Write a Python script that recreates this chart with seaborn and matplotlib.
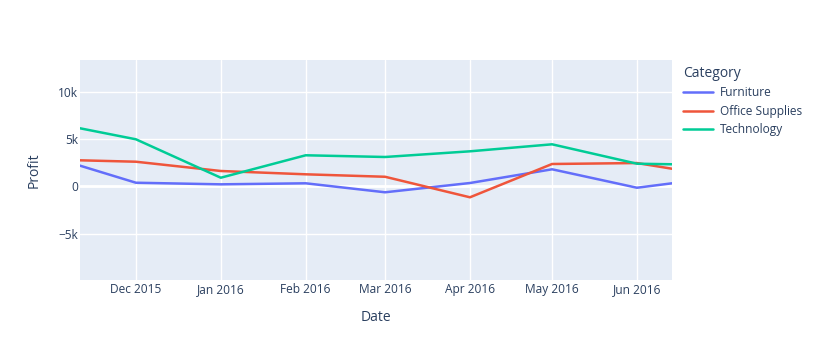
import matplotlib
matplotlib.use("Agg")
import matplotlib.pyplot as plt
import matplotlib.dates as mdates
import matplotlib.ticker as mticker
import numpy as np
import pandas as pd
import seaborn as sns

# monthly profit per category
months = pd.date_range("2015-11-01", "2016-07-01", freq="MS")
furniture = [3030, 380, 210, 320, -630, 350, 1800, -150, 950]
office_supplies = [2820, 2600, 1620, 1270, 1010, -1160, 2360, 2460, 1050]
technology = [6680, 4970, 910, 3280, 3100, 3700, 4440, 2390, 2250]
categories = ["Furniture", "Office Supplies", "Technology"]
colors = ["#636efa", "#EF553B", "#00cc96"]

df = pd.DataFrame({
    "Date": np.tile(months, 3),
    "Profit": furniture + office_supplies + technology,
    "Category": np.repeat(categories, len(months)),
})

sns.set_style("white")
plt.rcParams["font.family"] = ["Open Sans", "DejaVu Sans"]
text_col = "#2a3f5f"

fig = plt.figure(figsize=(8.31, 3.6), dpi=100)
ax = fig.add_axes([80 / 831, 80 / 360, 592 / 831, 220 / 360])
ax.set_facecolor("#E5ECF6")

sns.lineplot(data=df, x="Date", y="Profit", hue="Category",
             palette=colors, linewidth=1.8, ax=ax)

ax.set_xlim(pd.Timestamp("2015-11-10 14:00"), pd.Timestamp("2016-06-13 19:00"))
ax.set_ylim(-9900, 13350)

ax.xaxis.set_major_locator(mdates.MonthLocator(bymonthday=1))
ax.xaxis.set_major_formatter(mdates.DateFormatter("%b %Y"))
ax.yaxis.set_major_locator(mticker.MultipleLocator(5000))
ax.yaxis.set_major_formatter(mticker.FuncFormatter(
    lambda v, p: "0" if v == 0 else f"{v / 1000:.0f}k".replace("-", "\u2212")))

ax.grid(True, color="white", linewidth=1)
ax.axhline(0, color="white", linewidth=2, zorder=1.5)
ax.set_axisbelow(True)
for s in ax.spines.values():
    s.set_visible(False)
ax.tick_params(length=0, labelsize=8.6, colors=text_col)
ax.tick_params(axis="x", pad=2)
ax.tick_params(axis="y", pad=1.5)

ax.set_xlabel("Date", fontsize=10, color=text_col, labelpad=10)
ax.set_ylabel("Profit", fontsize=10, color=text_col, labelpad=12)

leg = ax.legend(title="Category", loc="upper left", bbox_to_anchor=(683 / 831, 1 - 66 / 360),
                bbox_transform=fig.transFigure, frameon=False, fontsize=8.6,
                title_fontsize=10, handlelength=2.5, handletextpad=0.6,
                labelspacing=0.45, borderaxespad=0, borderpad=0)
leg._legend_box.align = "left"
leg.get_title().set_color(text_col)
for t in leg.get_texts():
    t.set_color(text_col)

fig.savefig("out.png", dpi=100)
